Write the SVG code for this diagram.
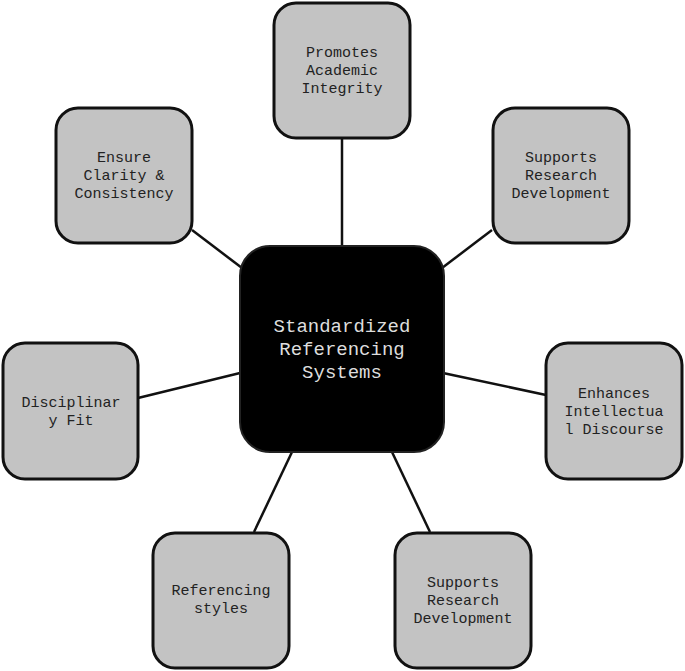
<svg xmlns="http://www.w3.org/2000/svg" width="685" height="671" viewBox="0 0 685 671">
<defs><style>
.n rect{fill:#c3c3c3;stroke:#111;stroke-width:3}
.n text{font-family:"Liberation Mono",monospace;font-size:15px;fill:#222;text-anchor:middle}
.c line{stroke:#111;stroke-width:2.5}
</style></defs>
<rect width="685" height="671" fill="#fff"/>
<g class="c">
<line x1="342" y1="138" x2="342" y2="246"/>
<line x1="192" y1="230" x2="242" y2="268"/>
<line x1="492" y1="230" x2="442" y2="268"/>
<line x1="138" y1="398" x2="240" y2="373"/>
<line x1="443" y1="373" x2="546" y2="395"/>
<line x1="254" y1="532" x2="292" y2="452"/>
<line x1="430" y1="532" x2="392" y2="452"/>
</g>
<g id="center"><rect x="240" y="246" width="204" height="206" rx="30" fill="#000" stroke="#222" stroke-width="2"/>
<text font-family="Liberation Mono,monospace" font-size="19" fill="#ddd" text-anchor="middle"><tspan x="342" y="332">Standardized</tspan><tspan x="342" y="355">Referencing</tspan><tspan x="342" y="378">Systems</tspan></text></g>
<g id="n1" class="n"><rect x="274" y="3" width="136" height="135" rx="22"/><text><tspan x="342" y="57">Promotes</tspan><tspan x="342" y="75">Academic</tspan><tspan x="342" y="93">Integrity</tspan></text></g>
<g id="n2" class="n"><rect x="56" y="108" width="136" height="135" rx="22"/><text><tspan x="124" y="162">Ensure</tspan><tspan x="124" y="180">Clarity &amp;</tspan><tspan x="124" y="198">Consistency</tspan></text></g>
<g id="n3" class="n"><rect x="493" y="108" width="136" height="135" rx="22"/><text><tspan x="561" y="162">Supports</tspan><tspan x="561" y="180">Research</tspan><tspan x="561" y="198">Development</tspan></text></g>
<g id="n4" class="n"><rect x="3" y="343" width="135" height="136" rx="22"/><text><tspan x="71" y="407">Disciplinar</tspan><tspan x="71" y="425">y Fit</tspan></text></g>
<g id="n5" class="n"><rect x="546" y="343" width="136" height="136" rx="22"/><text><tspan x="614" y="398">Enhances</tspan><tspan x="614" y="416">Intellectua</tspan><tspan x="614" y="434">l Discourse</tspan></text></g>
<g id="n6" class="n"><rect x="153" y="533" width="136" height="135" rx="22"/><text><tspan x="221" y="595">Referencing</tspan><tspan x="221" y="613">styles</tspan></text></g>
<g id="n7" class="n"><rect x="395" y="533" width="136" height="135" rx="22"/><text><tspan x="463" y="587">Supports</tspan><tspan x="463" y="605">Research</tspan><tspan x="463" y="623">Development</tspan></text></g>
</svg>
